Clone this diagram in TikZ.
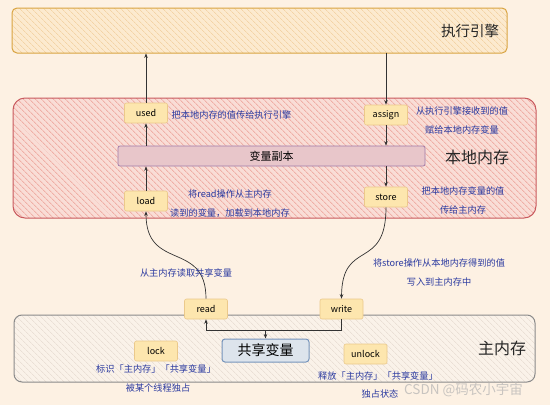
\documentclass[tikz,border=0pt]{standalone}
\usepackage{fontspec}
\setmainfont{Noto Sans CJK SC}
\usetikzlibrary{patterns.meta,arrows.meta}
\definecolor{bgc}{HTML}{FDF1E3}
\definecolor{engfill}{HTML}{FCEACF}
\definecolor{enghatch}{HTML}{F3D3A6}
\definecolor{engline}{HTML}{D9A441}
\definecolor{locfill}{HTML}{F9DDD6}
\definecolor{lochatch}{HTML}{EFAFA6}
\definecolor{locline}{HTML}{C95A5E}
\definecolor{mainfill}{HTML}{FAF2E9}
\definecolor{mainhatch}{HTML}{EADFD5}
\definecolor{mainline}{HTML}{8A8A8A}
\definecolor{barfill}{HTML}{E8C6CA}
\definecolor{barline}{HTML}{A07AA8}
\definecolor{opfill}{HTML}{FDE6AE}
\definecolor{opline}{HTML}{EBC98B}
\definecolor{shfill}{HTML}{DDE4EC}
\definecolor{shline}{HTML}{7694BB}
\definecolor{notec}{HTML}{2B3AA0}
\definecolor{arrc}{HTML}{333333}
\definecolor{wmc}{HTML}{C8C4C0}
\tikzset{
  region/.style={rounded corners=#1, line width=1pt},
  engbox/.style={region=5pt, draw=engline, preaction={fill=engfill},
    pattern={Lines[angle=-45,distance=4pt,line width=0.8pt]}, pattern color=enghatch},
  locbox/.style={region=12pt, draw=locline, preaction={fill=locfill},
    pattern={Lines[angle=-45,distance=4pt,line width=1pt]}, pattern color=lochatch},
  mainbox/.style={region=8pt, draw=mainline, preaction={fill=mainfill},
    pattern={Lines[angle=-45,distance=4pt,line width=0.8pt]}, pattern color=mainhatch},
  opbox/.style={draw=opline, fill=opfill, rounded corners=2pt, line width=0.6pt,
    minimum width=43pt, minimum height=20pt, inner sep=0pt, font=\fontsize{9}{10}\selectfont},
  note/.style={text=notec, inner sep=0pt, font=\fontsize{9.2}{10}\selectfont},
  biglabel/.style={inner sep=0pt, text=black!85},
  conn/.style={draw=arrc, line width=0.7pt},
  arr/.style={conn, -{Stealth[length=4.5pt,width=3.5pt]}},
}
\begin{document}
\begin{tikzpicture}[x=1pt,y=-1pt]
\useasboundingbox (0,0) rectangle (550,405);
\fill[bgc] (0,0) rectangle (550,405);

% regions
\node[engbox, minimum width=495pt, minimum height=45pt] (engine) at (259.5,30.5) {};
\node[biglabel, font=\fontsize{14.5}{16}\selectfont] (englabel) at (470,31) {执行引擎};
\node[locbox, minimum width=523pt, minimum height=120pt] (local) at (274.5,158) {};
\node[biglabel, font=\fontsize{16}{18}\selectfont] (loclabel) at (477,157) {本地内存};
\node[mainbox, minimum width=521pt, minimum height=67pt] (main) at (274.5,348.5) {};
\node[biglabel, font=\fontsize{16}{18}\selectfont] (mainlabel) at (502,348) {主内存};

% variable copy bar
\node[draw=barline, fill=barfill, rounded corners=2pt, line width=0.7pt,
  minimum width=307pt, minimum height=20pt, inner sep=0pt,
  font=\fontsize{11}{12}\selectfont] (copy) at (271.5,156) {变量副本};

% operation nodes
\node[opbox] (used) at (146,113) {used};
\node[opbox] (assign) at (386,115) {assign};
\node[opbox] (load) at (146,201) {load};
\node[opbox] (store) at (386,197) {store};
\node[opbox] (read) at (206,309) {read};
\node[opbox] (write) at (341.5,309) {write};
\node[opbox] (lock) at (156,351) {lock};
\node[opbox] (unlock) at (365.5,354) {unlock};
\node[draw=shline, fill=shfill, rounded corners=3pt, line width=1pt,
  minimum width=87pt, minimum height=23pt, inner sep=0pt,
  font=\fontsize{14}{16}\selectfont] (shared) at (265.5,350.5) {共享变量};

% connectors in the working memory
\draw[arr] (used.north) -- (used.north |- engine.south);
\draw[arr] (assign.north |- engine.south) -- (assign.north);
\draw[arr] (load.north) -- (load.north |- copy.south);
\draw[arr] (used.south |- copy.north) -- (used.south);
\draw[arr] (assign.south) -- (assign.south |- copy.north);
\draw[arr] (store.north |- copy.south) -- (store.north);

% curved connectors between memories
\draw[arr] (read.north) .. controls (206,240) and (146,272) .. (load.south);
\draw[arr] (store.south) .. controls (386,272) and (342,238) .. (write.north);

% connectors in main memory
\coordinate (junc) at (265.5,330);
\draw[conn] (write.south) |- (junc);
\draw[arr] (junc) -| (read.south);
\draw[arr] (junc) -- (shared.north);

% notes
\node[note, anchor=west] (nused) at (171.5,115) {把本地内存的值传给执行引擎};
\node[note] (nassign1) at (462,111) {从执行引擎接收到的值};
\node[note] (nassign2) at (462,130) {赋给本地内存变量};
\node[note] (nload1) at (230,194) {将read操作从主内存};
\node[note] (nload2) at (230,213) {读到的变量，加载到本地内存};
\node[note] (nstore1) at (463,191) {把本地内存变量的值};
\node[note] (nstore2) at (463,210) {传给主内存};
\node[note] (nread) at (186,273) {从主内存读取共享变量};
\node[note] (nwrite1) at (439,263) {将store操作从本地内存得到的值};
\node[note] (nwrite2) at (439,282) {写入到主内存中};
\node[note] (nlock1) at (156,369) {标识「主内存」「共享变量」};
\node[note] (nlock2) at (158,388) {被某个线程独占};
\node[note] (nunlock1) at (378,376) {释放「主内存」「共享变量」};
\node[note] (nunlock2) at (380,394) {独占状态};

% watermark
\node[inner sep=0pt, anchor=west, text=wmc, font=\fontsize{13.5}{15}\selectfont] (wm) at (404,390) {CSDN @码农小宇宙};
\end{tikzpicture}
\end{document}
